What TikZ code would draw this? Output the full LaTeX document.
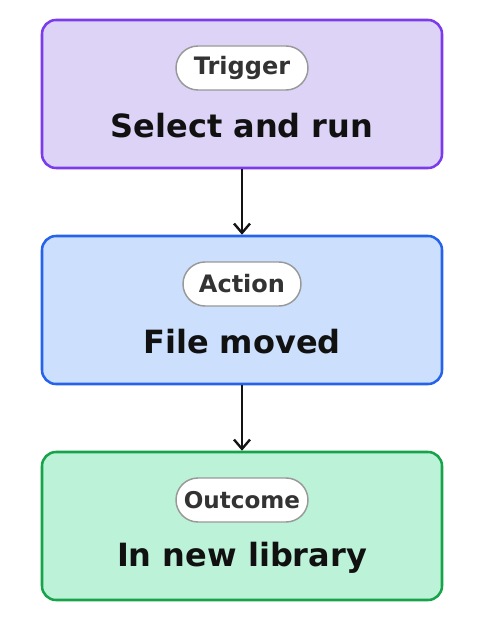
\documentclass[tikz,border=0pt]{standalone}
\usepackage{fontspec}
\setmainfont{DejaVu Sans}
\usetikzlibrary{arrows.meta}
\definecolor{pB}{HTML}{7C3AED}\definecolor{pF}{HTML}{DDD3F7}
\definecolor{bB}{HTML}{2563EB}\definecolor{bF}{HTML}{CCE0FD}
\definecolor{gB}{HTML}{16A34A}\definecolor{gF}{HTML}{BBF2D8}
\definecolor{pillB}{HTML}{999999}\definecolor{pillT}{HTML}{333333}
\definecolor{mainT}{HTML}{111111}
\tikzset{
  card/.style={draw, line width=1.9pt, rounded corners=10.5pt, minimum width=300pt, minimum height=111pt, inner sep=0pt},
  pill/.style={draw=pillB, fill=white, line width=1.1pt, rounded corners=16.5pt, minimum height=33pt, inner sep=0pt, text=pillT, font=\bfseries\fontsize{18}{21}\selectfont},
  maintext/.style={text=mainT, font=\bfseries\fontsize{24}{28}\selectfont, inner sep=0pt},
  conn/.style={line width=1.8pt, -{Straight Barb[length=7pt,width=12pt,line width=1.8pt]}, draw=black!92}
}
\begin{document}
\begin{tikzpicture}[x=0.75pt,y=-0.75pt]
\useasboundingbox (0,0) rectangle (484,620);
\node[card, draw=pB, fill=pF] (c1) at (242,94) {};
\node[card, draw=bB, fill=bF] (c2) at (242,310) {};
\node[card, draw=gB, fill=gF] (c3) at (242,526) {};
\node[pill, minimum width=99pt] (p1) at (242,68) {Trigger};
\node[pill, minimum width=88.5pt] (p2) at (242,284) {Action};
\node[pill, minimum width=99pt] (p3) at (242,500) {\fontsize{17.3}{21}\selectfont Outcome};
\node[maintext] (t1) at (242,126) {Select and run};
\node[maintext] (t2) at (242,342) {File moved};
\node[maintext] (t3) at (242,558) {In new library};
\draw[conn] (c1.south) -- (c2.north);
\draw[conn] (c2.south) -- (c3.north);
\end{tikzpicture}
\end{document}
